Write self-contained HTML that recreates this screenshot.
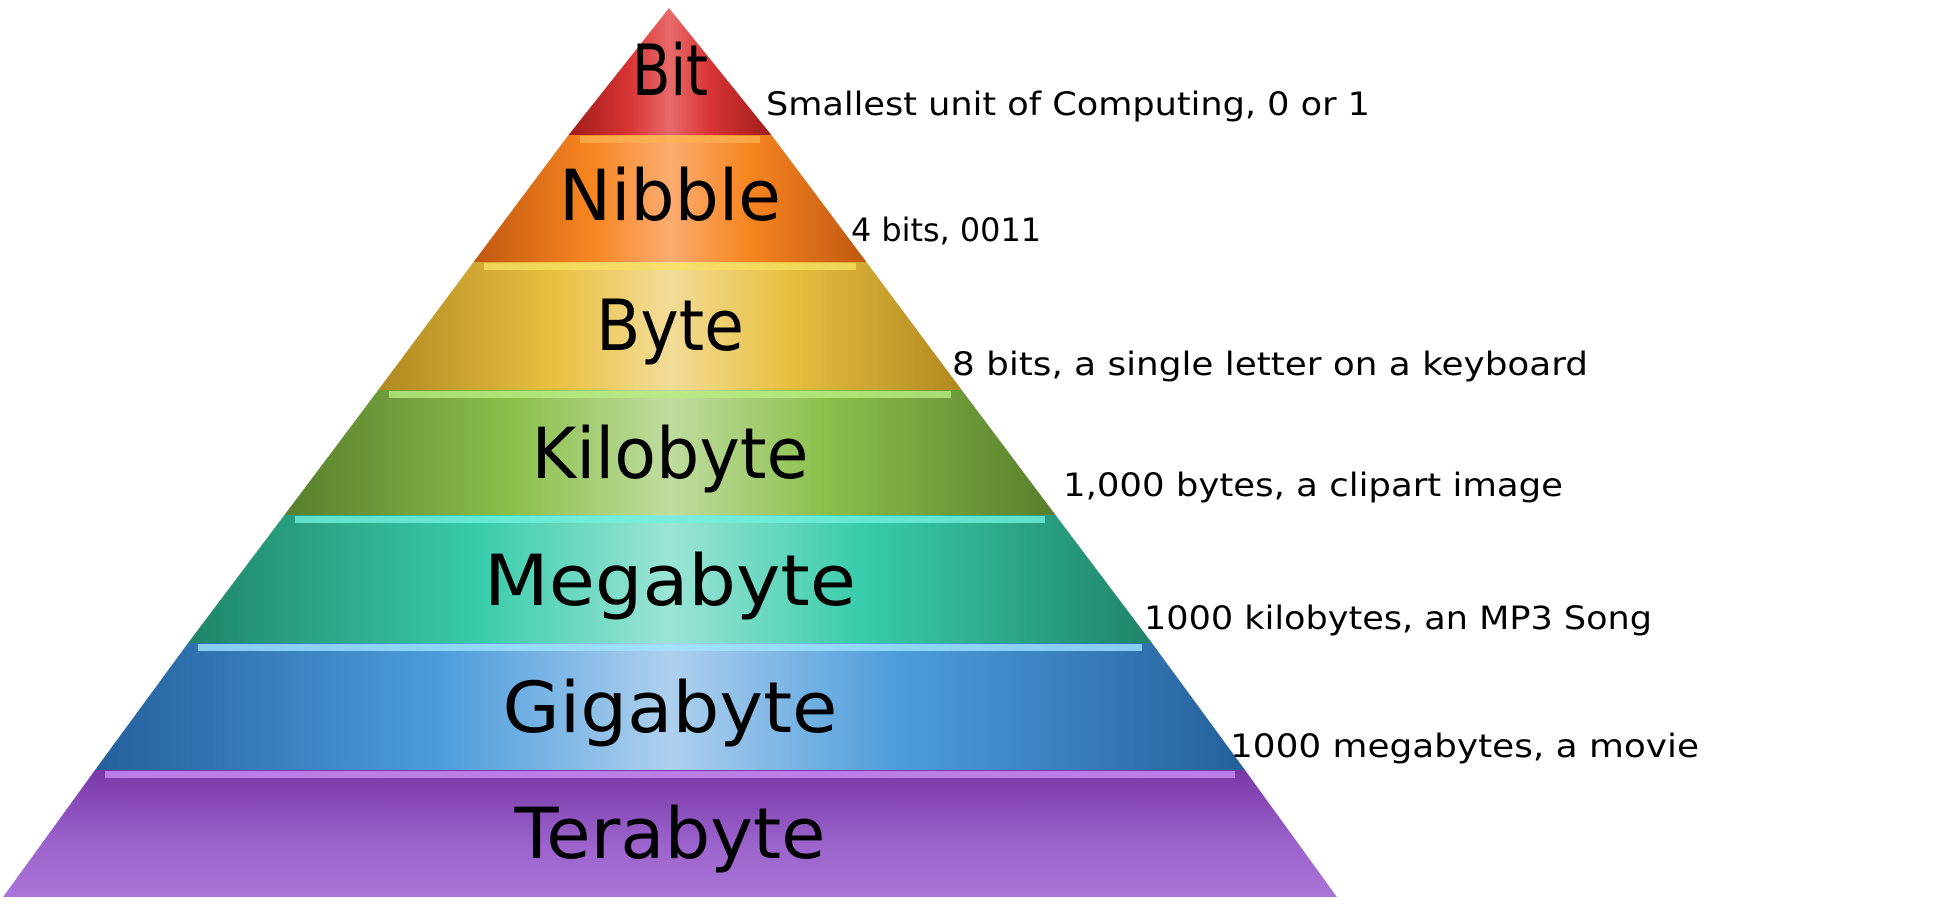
<!DOCTYPE html>
<html><head><meta charset="utf-8"><style>
html,body{margin:0;padding:0;background:#fff;width:1956px;height:918px;overflow:hidden}
svg{display:block}
text{font-family:"DejaVu Sans","Liberation Sans",sans-serif;fill:#000}
</style></head><body>
<svg width="1956" height="918" viewBox="0 0 1956 918" xmlns="http://www.w3.org/2000/svg">
<defs>
<linearGradient id="g0" x1="0" x2="1"><stop offset="0" stop-color="#a01c1c"/><stop offset=".3" stop-color="#d83434"/><stop offset=".5" stop-color="#e86a6a"/><stop offset=".7" stop-color="#d83434"/><stop offset="1" stop-color="#a01c1c"/></linearGradient>
<linearGradient id="g1" x1="0" x2="1"><stop offset="0" stop-color="#c05810"/><stop offset=".3" stop-color="#f78520"/><stop offset=".5" stop-color="#fbac70"/><stop offset=".7" stop-color="#f78520"/><stop offset="1" stop-color="#c05810"/></linearGradient>
<linearGradient id="g2" x1="0" x2="1"><stop offset="0" stop-color="#b08820"/><stop offset=".3" stop-color="#e8c040"/><stop offset=".5" stop-color="#f3dc98"/><stop offset=".7" stop-color="#e8c040"/><stop offset="1" stop-color="#b08820"/></linearGradient>
<linearGradient id="g3" x1="0" x2="1"><stop offset="0" stop-color="#587e2c"/><stop offset=".3" stop-color="#8cc04c"/><stop offset=".5" stop-color="#c0dca0"/><stop offset=".7" stop-color="#8cc04c"/><stop offset="1" stop-color="#587e2c"/></linearGradient>
<linearGradient id="g4" x1="0" x2="1"><stop offset="0" stop-color="#208468"/><stop offset=".3" stop-color="#38ccaa"/><stop offset=".5" stop-color="#9ce4d4"/><stop offset=".7" stop-color="#38ccaa"/><stop offset="1" stop-color="#208468"/></linearGradient>
<linearGradient id="g5" x1="0" x2="1"><stop offset="0" stop-color="#24609c"/><stop offset=".3" stop-color="#4c9cdc"/><stop offset=".5" stop-color="#aed0ee"/><stop offset=".7" stop-color="#4c9cdc"/><stop offset="1" stop-color="#24609c"/></linearGradient>
<linearGradient id="g6" x1="0" x2="0" y1="0" y2="1"><stop offset="0" stop-color="#7838a8"/><stop offset=".6" stop-color="#9c64cc"/><stop offset="1" stop-color="#aa74d8"/></linearGradient>
</defs>
<polygon points="669,8 771.5,135 568.5,135" fill="url(#g0)"/>
<polygon points="568.5,135 771.5,135 866.5,262 473.5,262" fill="url(#g1)"/>
<polygon points="473.5,262 866.5,262 961.8,390 378.2,390" fill="url(#g2)"/>
<polygon points="378.2,390 961.8,390 1055.6,515 284.4,515" fill="url(#g3)"/>
<polygon points="284.4,515 1055.6,515 1152,643 188,643" fill="url(#g4)"/>
<polygon points="188,643 1152,643 1245,770 95,770" fill="url(#g5)"/>
<polygon points="95,770 1245,770 1337,897 3,897" fill="url(#g6)"/>
<g opacity=".8">
<rect x="580" y="136" width="180" height="7" fill="#fbb050"/>
<rect x="484" y="263" width="372" height="7" fill="#f6e060"/>
<rect x="389" y="391" width="562" height="7" fill="#b8ec80"/>
<rect x="295" y="516" width="750" height="7" fill="#70f0dc"/>
<rect x="198" y="644" width="944" height="7" fill="#a0e4ff"/>
<rect x="105" y="771" width="1130" height="7" fill="#cc90f8"/>
</g>
<g font-size="70" text-anchor="middle">
<text x="670" y="95" textLength="76" lengthAdjust="spacingAndGlyphs">Bit</text>
<text x="670" y="220" textLength="222" lengthAdjust="spacingAndGlyphs">Nibble</text>
<text x="670" y="350" textLength="148" lengthAdjust="spacingAndGlyphs">Byte</text>
<text x="670" y="478" textLength="277" lengthAdjust="spacingAndGlyphs">Kilobyte</text>
<text x="670" y="605" textLength="372" lengthAdjust="spacingAndGlyphs">Megabyte</text>
<text x="670" y="732" textLength="335" lengthAdjust="spacingAndGlyphs">Gigabyte</text>
<text x="670" y="858" textLength="311" lengthAdjust="spacingAndGlyphs">Terabyte</text>
</g>
<g font-size="32">
<text x="766" y="115" textLength="604" lengthAdjust="spacingAndGlyphs">Smallest unit of Computing, 0 or 1</text>
<text x="851" y="241" textLength="190" lengthAdjust="spacingAndGlyphs">4 bits, 0011</text>
<text x="952" y="375" textLength="636" lengthAdjust="spacingAndGlyphs">8 bits, a single letter on a keyboard</text>
<text x="1063" y="496" textLength="500" lengthAdjust="spacingAndGlyphs">1,000 bytes, a clipart image</text>
<text x="1144" y="629" textLength="508" lengthAdjust="spacingAndGlyphs">1000 kilobytes, an MP3 Song</text>
<text x="1230" y="757" textLength="469" lengthAdjust="spacingAndGlyphs">1000 megabytes, a movie</text>
</g>
</svg>
</body></html>
